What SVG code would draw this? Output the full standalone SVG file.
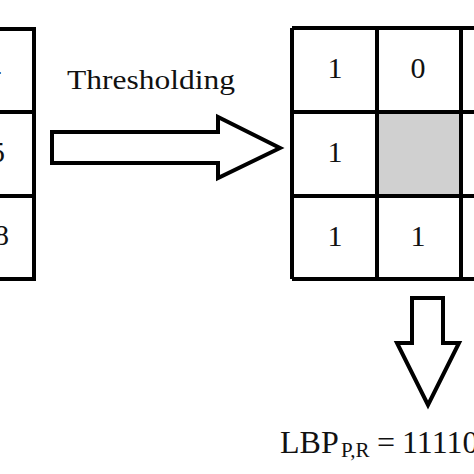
<svg xmlns="http://www.w3.org/2000/svg" width="474" height="474" viewBox="0 0 474 474">
<style>
.g{fill:none;stroke:#000;stroke-width:4}
.t{font-family:"Liberation Serif","Times New Roman",serif;font-size:30px;fill:#111}
.a{fill:#fff;stroke:#000;stroke-width:4;stroke-linejoin:miter}
</style>
<rect width="474" height="474" fill="#fff"/>
<g id="input-grid">
<path class="g" d="M-10 29H34V279H-10M-10 112H34M-10 196H34"/>
<text class="t" x="1" y="78" text-anchor="end">4</text>
<text class="t" x="5" y="162" text-anchor="end">5</text>
<text class="t" x="9" y="245" text-anchor="end">8</text>
</g>
<g id="threshold-grid">
<rect x="378" y="114" width="81" height="80" fill="#d0d0d0"/>
<path class="g" d="M292 28H480M292 112H480M292 196H480M292 279H480M292 28V279M377 28V279M461 28V279"/>
<text class="t" x="335" y="78" text-anchor="middle">1</text>
<text class="t" x="418" y="78" text-anchor="middle">0</text>
<text class="t" x="335" y="162" text-anchor="middle">1</text>
<text class="t" x="335" y="246" text-anchor="middle">1</text>
<text class="t" x="418" y="246" text-anchor="middle">1</text>
</g>
<g id="connectors">
<path class="a" d="M52 132H218V117L280 148L218 178V163H52Z"/>
<text class="t" x="67" y="89" style="font-size:28px" textLength="168" lengthAdjust="spacingAndGlyphs">Thresholding</text>
<path class="a" d="M412 298H443V343H459L428 405L397 343H412Z"/>
</g>
<g id="result">
<text class="t" x="280" y="453" style="font-size:32px">LBP<tspan x="341" y="457" style="font-size:21px">P,R</tspan><tspan x="369" y="453"> =</tspan><tspan x="394" y="453"> 11110</tspan></text>
</g>
</svg>
